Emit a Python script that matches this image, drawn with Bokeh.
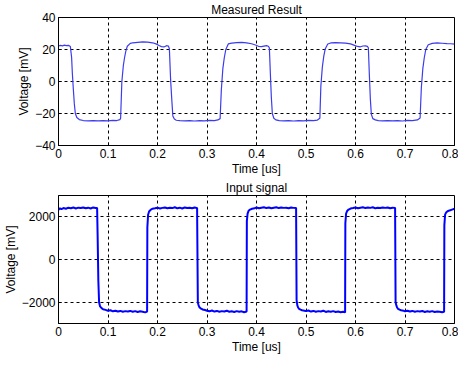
from bokeh.plotting import figure
from bokeh.layouts import column
from bokeh.models import FixedTicker
from bokeh.embed import file_html
from bokeh.resources import INLINE

# ---------------- data ----------------
time_ticks = [0, 0.1, 0.2, 0.3, 0.4, 0.5, 0.6, 0.7, 0.8]
measured_ticks = [-40, -20, 0, 20, 40]
input_ticks = [-2000, 0, 2000]

measured_time = [
    0.000, 0.004, 0.008, 0.012, 0.016, 0.020, 0.024, 0.0265, 0.028, 0.030, 0.032, 0.034, 0.037, 0.042,
    0.050, 0.060, 0.070, 0.080, 0.090, 0.100, 0.110, 0.118, 0.124,
    0.1255, 0.128, 0.131, 0.1335, 0.136, 0.139, 0.145, 0.150, 0.160, 0.170, 0.180, 0.190, 0.197, 0.203,
    0.208, 0.213, 0.218, 0.222, 0.224, 0.2265, 0.229, 0.231, 0.234, 0.238, 0.245,
    0.255, 0.265, 0.275, 0.285, 0.295, 0.305, 0.315, 0.322,
    0.3265, 0.329, 0.332, 0.335, 0.338, 0.343, 0.350, 0.360, 0.370, 0.380, 0.390, 0.398, 0.404,
    0.410, 0.415, 0.420, 0.424, 0.426, 0.428, 0.430, 0.432, 0.435, 0.439, 0.446,
    0.455, 0.465, 0.475, 0.485, 0.495, 0.505, 0.515, 0.523,
    0.528, 0.530, 0.533, 0.536, 0.539, 0.544, 0.550, 0.560, 0.570, 0.580, 0.590, 0.598, 0.604,
    0.610, 0.615, 0.620, 0.624, 0.626, 0.628, 0.630, 0.632, 0.635, 0.640, 0.646,
    0.655, 0.665, 0.675, 0.685, 0.695, 0.705, 0.715, 0.725,
    0.7305, 0.733, 0.736, 0.739, 0.742, 0.747, 0.755, 0.765, 0.775, 0.785, 0.793, 0.800,
]
measured_mv = [
    22.2, 22.6, 22.3, 22.7, 22.4, 22.6, 21.8, 15.0, 5.0, -5.0, -14.0, -20.0, -22.5, -23.8,
    -24.4, -24.6, -24.5, -24.6, -24.4, -24.6, -24.3, -24.4, -23.8,
    -23.0, 0.0, 10.0, 15.0, 19.0, 22.0, 23.8, 24.2, 24.5, 24.8, 24.6, 24.2, 23.5, 22.5,
    21.8, 21.6, 22.4, 22.2, 20.5, 1.0, -12.0, -21.5, -23.5, -24.2, -24.5,
    -24.6, -24.4, -24.7, -24.5, -24.6, -24.3, -24.5, -24.0,
    -23.2, -5.0, 8.0, 15.0, 20.0, 23.5, 24.0, 24.3, 24.4, 24.1, 23.6, 22.8, 22.0,
    21.8, 22.1, 22.4, 22.0, 21.0, 5.0, -10.0, -20.0, -23.0, -24.0, -24.4,
    -24.6, -24.5, -24.7, -24.4, -24.6, -24.3, -24.5, -24.1,
    -23.0, -3.0, 9.0, 16.0, 20.5, 23.4, 24.1, 24.3, 24.2, 24.0, 23.5, 22.6, 21.9,
    21.7, 22.2, 22.3, 22.0, 21.0, 4.0, -11.0, -20.5, -23.2, -24.0, -24.5,
    -24.6, -24.4, -24.6, -24.5, -24.7, -24.3, -24.5, -24.0,
    -22.8, -4.0, 8.0, 15.0, 20.0, 23.0, 23.8, 24.1, 23.9, 23.7, 23.6, 23.4,
]

input_time = [
    0.000, 0.003, 0.006, 0.010, 0.015, 0.020, 0.025, 0.030, 0.035, 0.040, 0.045, 0.050, 0.055,
    0.060, 0.065, 0.070, 0.075, 0.078, 0.079, 0.0805, 0.082, 0.084, 0.087, 0.090, 0.095,
    0.100, 0.105, 0.110, 0.115, 0.120, 0.125, 0.130, 0.135, 0.140, 0.145, 0.150, 0.155,
    0.160, 0.165, 0.170, 0.175, 0.179, 0.1795, 0.181, 0.183, 0.186, 0.190, 0.195,
    0.200, 0.205, 0.210, 0.215, 0.220, 0.225, 0.230, 0.235, 0.240, 0.245, 0.250, 0.255,
    0.260, 0.265, 0.270, 0.275, 0.279, 0.280, 0.2815, 0.283, 0.285, 0.288, 0.291, 0.296,
    0.300, 0.305, 0.310, 0.315, 0.320, 0.325, 0.330, 0.335, 0.340, 0.345, 0.350, 0.355,
    0.360, 0.365, 0.370, 0.375, 0.380, 0.3805, 0.382, 0.384, 0.387, 0.391, 0.396,
    0.400, 0.405, 0.410, 0.415, 0.420, 0.425, 0.430, 0.435, 0.440, 0.445, 0.450, 0.455,
    0.460, 0.465, 0.470, 0.475, 0.480, 0.481, 0.4825, 0.484, 0.486, 0.489, 0.492, 0.497,
    0.500, 0.505, 0.510, 0.515, 0.520, 0.525, 0.530, 0.535, 0.540, 0.545, 0.550, 0.555,
    0.560, 0.565, 0.570, 0.575, 0.579, 0.5795, 0.581, 0.583, 0.586, 0.590, 0.595,
    0.600, 0.605, 0.610, 0.615, 0.620, 0.625, 0.630, 0.635, 0.640, 0.645, 0.650, 0.655,
    0.660, 0.665, 0.670, 0.675, 0.680, 0.681, 0.6825, 0.684, 0.686, 0.689, 0.692, 0.697,
    0.700, 0.705, 0.710, 0.715, 0.720, 0.725, 0.730, 0.735, 0.740, 0.745, 0.750, 0.755,
    0.760, 0.765, 0.770, 0.775, 0.779, 0.7795, 0.781, 0.783, 0.786, 0.790, 0.795, 0.800,
]
input_mv = [
    2330, 2400, 2360, 2410, 2380, 2430, 2400, 2440, 2390, 2430, 2410, 2440, 2400,
    2430, 2390, 2440, 2410, 2420, 1200, -1000, -2000, -2200, -2280, -2330, -2360,
    -2400, -2380, -2430, -2400, -2440, -2410, -2450, -2420, -2440, -2410, -2450, -2420,
    -2460, -2430, -2450, -2480, -2440, 1500, 2100, 2250, 2330, 2380, 2400,
    2430, 2390, 2420, 2440, 2400, 2430, 2410, 2450, 2400, 2430, 2390, 2440, 2410,
    2430, 2400, 2440, 2420, 2410, -2000, -2150, -2250, -2300, -2340, -2370,
    -2400, -2430, -2390, -2440, -2410, -2450, -2420, -2440, -2400, -2450, -2430, -2460,
    -2420, -2450, -2430, -2470, -2440, 1800, 2150, 2280, 2340, 2380, 2400,
    2440, 2400, 2430, 2450, 2410, 2440, 2400, 2430, 2450, 2410, 2440, 2420,
    2430, 2400, 2440, 2420, 2410, -1900, -2150, -2250, -2310, -2350, -2380, -2400,
    -2420, -2390, -2440, -2410, -2450, -2420, -2440, -2400, -2460, -2430, -2450, -2420,
    -2460, -2440, -2470, -2450, -2480, 1700, 2150, 2270, 2340, 2390, 2410,
    2440, 2400, 2430, 2450, 2410, 2440, 2420, 2450, 2400, 2430, 2410, 2440,
    2420, 2440, 2400, 2430, 2420, -2000, -2150, -2250, -2310, -2350, -2380, -2400,
    -2430, -2400, -2440, -2410, -2450, -2420, -2440, -2410, -2460, -2430, -2450, -2420,
    -2460, -2440, -2450, -2470, -2450, 1600, 2100, 2200, 2260, 2300, 2340, 2380,
]

FONT = "Liberation Sans"


def style(p, yticks):
    p.title.text_font = FONT
    p.title.text_font_size = "12px"
    p.title.text_font_style = "normal"
    p.title.text_color = "black"
    p.title.align = "center"
    p.title.standoff = 1
    p.outline_line_color = "black"
    p.outline_line_width = 1
    for ax in (p.xaxis[0], p.yaxis[0]):
        ax.major_label_text_font = FONT
        ax.major_label_text_font_size = "12px"
        ax.major_label_text_color = "black"
        ax.axis_label_text_font = FONT
        ax.axis_label_text_font_size = "12px"
        ax.axis_label_text_font_style = "normal"
        ax.axis_label_text_color = "black"
        ax.axis_line_color = "black"
        ax.major_tick_line_color = "black"
        ax.major_tick_in = 3
        ax.major_tick_out = 0
        ax.minor_tick_line_color = None
        ax.axis_label_standoff = 1
        ax.major_label_standoff = 3
    p.xaxis[0].ticker = FixedTicker(ticks=time_ticks)
    p.xaxis[0].major_label_overrides = {0: "0"}
    p.yaxis[0].ticker = FixedTicker(ticks=yticks)
    p.xgrid[0].ticker = FixedTicker(ticks=time_ticks)
    p.ygrid[0].ticker = FixedTicker(ticks=yticks)
    for g in (p.xgrid[0], p.ygrid[0]):
        g.grid_line_color = "black"
        g.grid_line_dash = "3 3"
        g.grid_line_width = 1
    p.background_fill_color = "white"
    p.border_fill_color = "white"


p1 = figure(width=458, height=178, x_range=(0, 0.8), y_range=(-40, 40),
            title="Measured Result", output_backend="svg", toolbar_location=None,
            x_axis_label="Time [us]", y_axis_label="Voltage [mV]",
            min_border_left=48, min_border_right=4, min_border_top=12, min_border_bottom=0)
style(p1, measured_ticks)
p1.line(measured_time, measured_mv, line_color="#3c3cee", line_width=1.2)

p2 = figure(width=458, height=178, x_range=(0, 0.8), y_range=(-3000, 3000),
            title="Input signal", output_backend="svg", toolbar_location=None,
            x_axis_label="Time [us]", y_axis_label="Voltage [mV]",
            min_border_left=48, min_border_right=4, min_border_top=16, min_border_bottom=0)
style(p2, input_ticks)
p2.line(input_time, input_mv, line_color="#0000ff", line_width=2)

layout = column(p1, p2)
open("out.html", "w").write(file_html(layout, INLINE))
